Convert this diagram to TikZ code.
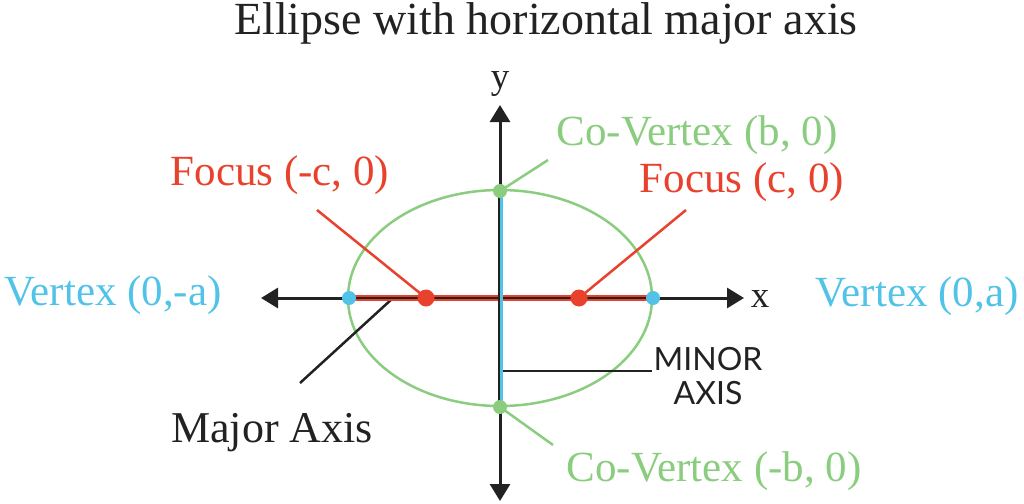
\documentclass[tikz,border=0pt]{standalone}
\usepackage{fontspec}
\setmainfont{Liberation Serif}
\newfontfamily\labsans{Lato}
\usetikzlibrary{arrows.meta}
\definecolor{ered}{RGB}{232,65,44}
\definecolor{egreen}{RGB}{138,205,126}
\definecolor{ecyan}{RGB}{82,195,232}
\definecolor{eblack}{RGB}{34,34,34}
\begin{document}
\begin{tikzpicture}[x=1pt,y=-1pt,
  lbl/.style={inner sep=0pt, anchor=base, font=\fontsize{43}{48}\selectfont},
  axisline/.style={eblack, line width=3pt, -{Triangle[length=17pt,width=20pt]}},
  pointer/.style={line width=2.5pt},
  dot/.style={inner sep=0pt, minimum size=#1, circle}]
\useasboundingbox (0,0) rectangle (1024,503);
% key points
\coordinate (O) at (500,298);
\coordinate (V1) at (349,298);
\coordinate (V2) at (653,298);
\coordinate (F1) at (426,298);
\coordinate (F2) at (579,298);
\coordinate (C1) at (500,191);
\coordinate (C2) at (500,407);
\coordinate (xl) at (261,298);
\coordinate (xr) at (744,298);
\coordinate (yt) at (500,105);
\coordinate (yb) at (500,501);
\coordinate (pf1) at (317,210);
\coordinate (pf2) at (686,210);
\coordinate (pc1) at (548,160);
\coordinate (pc2) at (553,445);
\coordinate (pma) at (300,383);
\coordinate (pmaA) at (393,298);
\coordinate (pmi) at (652,371);
\coordinate (pmiA) at (500,371);
% title
\node[inner sep=0pt, anchor=base, font=\fontsize{46}{52}\selectfont, text=eblack] (title) at (546,35) {Ellipse with horizontal major axis};
% ellipse
\draw[egreen, line width=2.5pt] (O) ellipse [x radius=152, y radius=108];
% axes
\draw[axisline] (O) -- (xr);
\draw[axisline] (O) -- (xl);
\draw[axisline] (O) -- (yt);
\draw[axisline] (O) -- (yb);
\node[inner sep=0pt, anchor=base, font=\fontsize{37}{40}\selectfont, text=eblack] (ylab) at (500,88) {y};
\node[inner sep=0pt, anchor=base, font=\fontsize{37}{40}\selectfont, text=eblack] (xlab) at (760,307) {x};
% pointers
\draw[ered, pointer] (pf1) -- (F1);
\draw[ered, pointer] (pf2) -- (F2);
\draw[egreen, pointer] (C1) -- (pc1);
\draw[egreen, pointer] (C2) -- (pc2);
\draw[eblack, pointer] (pma) -- (pmaA);
\draw[eblack, pointer] (pmiA) -- (pmi);
% major axis
\draw[ered, line width=6pt] (V1) -- (V2);
\draw[eblack, line width=2pt] (V1) -- (V2);
% minor axis
\draw[ecyan, line width=3pt] ([xshift=1.5pt]C1) -- ([xshift=1.5pt]C2);
\draw[eblack, line width=2.5pt] ([xshift=-1pt]C1) -- ([xshift=-1pt]C2);
% dots
\node[dot=14pt, fill=ecyan] (dV1) at (V1) {};
\node[dot=14pt, fill=ecyan] (dV2) at (V2) {};
\node[dot=17pt, fill=ered] (dF1) at (F1) {};
\node[dot=17pt, fill=ered] (dF2) at (F2) {};
\node[dot=14pt, fill=egreen] (dC1) at (C1) {};
\node[dot=14pt, fill=egreen] (dC2) at (C2) {};
% labels
\node[lbl, text=ered] (lf1) at (280,185) {Focus (-c, 0)};
\node[lbl, text=ered] (lf2) at (742,192) {Focus (c, 0)};
\node[lbl, text=egreen] (lc1) at (697,145) {Co-Vertex (b, 0)};
\node[lbl, text=egreen] (lc2) at (714,481) {Co-Vertex (-b, 0)};
\node[lbl, text=ecyan] (lv1) at (113,305) {Vertex (0,-a)};
\node[lbl, text=ecyan] (lv2) at (917,306) {Vertex (0,a)};
\node[lbl, text=eblack, font=\fontsize{44}{48}\selectfont] (lma) at (272,442) {Major Axis};
\node[inner sep=0pt, anchor=base, align=center, text=eblack, font=\labsans\fontsize{32}{34}\selectfont] (lmi) at (708,404) {MINOR\\AXIS};
\end{tikzpicture}
\end{document}
